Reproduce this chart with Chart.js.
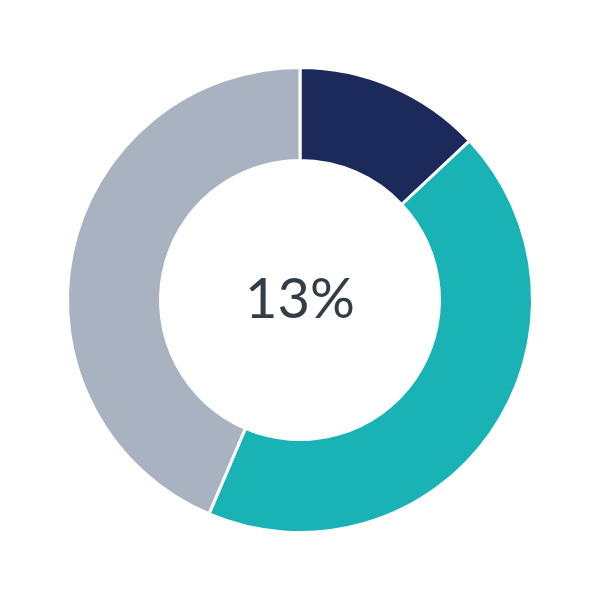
<!DOCTYPE html>
<html>
<head>
<meta charset="utf-8">
<script src="https://cdn.jsdelivr.net/npm/chart.js@4"></script>
<style>
  html, body { margin: 0; padding: 0; background: #fff; }
  #wrap { width: 600px; height: 600px; position: relative; }
</style>
</head>
<body>
<div id="wrap"><canvas id="donutChart" width="600" height="600"></canvas></div>
<script>
const labels = ['Segment A', 'Segment B', 'Segment C'];
const values = [13, 43.4, 43.6];
const colors = ['#1b2a5a', '#1ab3b5', '#a8b2c0'];
const centerLabel = '13%';

const centerText = {
  id: 'centerText',
  afterDraw(chart) {
    const { ctx, chartArea } = chart;
    const cx = (chartArea.left + chartArea.right) / 2;
    const cy = (chartArea.top + chartArea.bottom) / 2;
    ctx.save();
    ctx.font = '400 56px Lato';
    ctx.fillStyle = '#333d48';
    ctx.textAlign = 'center';
    ctx.textBaseline = 'middle';
    ctx.fillText(centerLabel, cx, cy);
    ctx.restore();
  }
};

const ctx = document.getElementById('donutChart').getContext('2d');
new Chart(ctx, {
  type: 'doughnut',
  data: {
    labels: labels,
    datasets: [{
      data: values,
      backgroundColor: colors,
      borderColor: '#ffffff',
      borderWidth: 3
    }]
  },
  options: {
    responsive: false,
    animation: false,
    cutout: '60%',
    layout: { padding: 66 },
    plugins: {
      legend: { display: false },
      tooltip: { enabled: false }
    }
  },
  plugins: [centerText]
});
</script>
</body>
</html>
